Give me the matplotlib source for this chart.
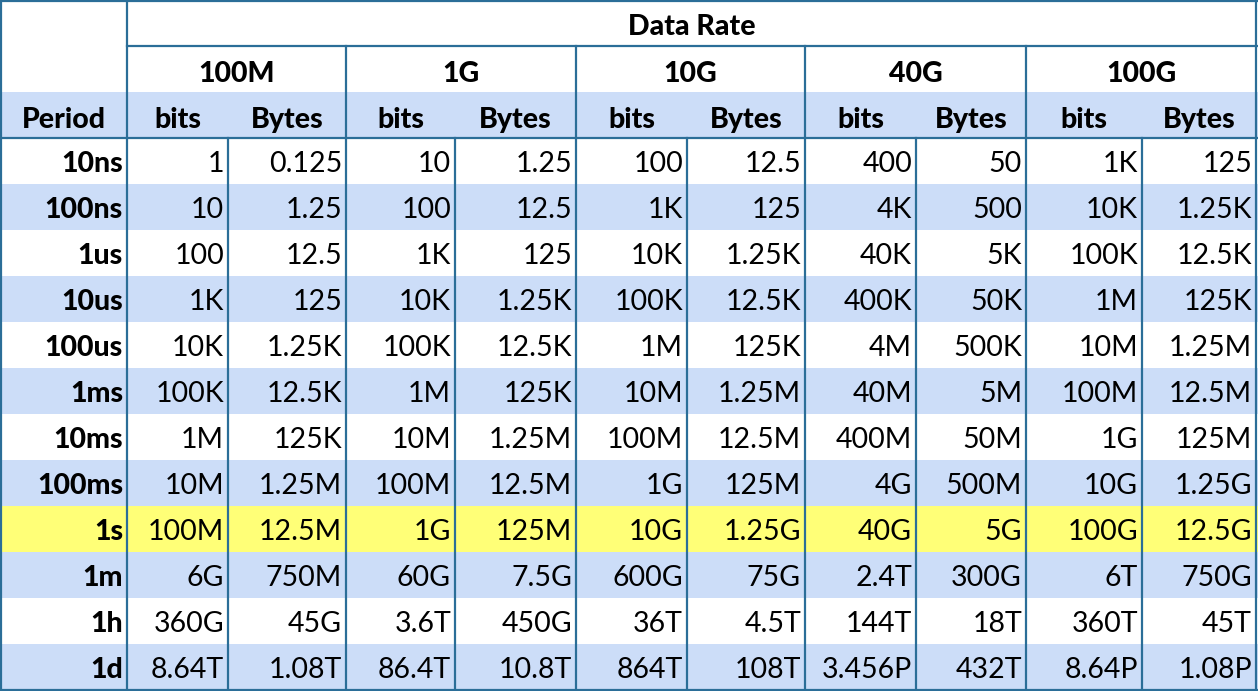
import matplotlib
matplotlib.use("Agg")
import matplotlib.pyplot as plt
from matplotlib.patches import Rectangle

rates = ["100M", "1G", "10G", "40G", "100G"]
units = ["bits", "Bytes"]
periods = ["10ns", "100ns", "1us", "10us", "100us", "1ms", "10ms", "100ms", "1s", "1m", "1h", "1d"]
values = [
    ["1", "0.125", "10", "1.25", "100", "12.5", "400", "50", "1K", "125"],
    ["10", "1.25", "100", "12.5", "1K", "125", "4K", "500", "10K", "1.25K"],
    ["100", "12.5", "1K", "125", "10K", "1.25K", "40K", "5K", "100K", "12.5K"],
    ["1K", "125", "10K", "1.25K", "100K", "12.5K", "400K", "50K", "1M", "125K"],
    ["10K", "1.25K", "100K", "12.5K", "1M", "125K", "4M", "500K", "10M", "1.25M"],
    ["100K", "12.5K", "1M", "125K", "10M", "1.25M", "40M", "5M", "100M", "12.5M"],
    ["1M", "125K", "10M", "1.25M", "100M", "12.5M", "400M", "50M", "1G", "125M"],
    ["10M", "1.25M", "100M", "12.5M", "1G", "125M", "4G", "500M", "10G", "1.25G"],
    ["100M", "12.5M", "1G", "125M", "10G", "1.25G", "40G", "5G", "100G", "12.5G"],
    ["6G", "750M", "60G", "7.5G", "600G", "75G", "2.4T", "300G", "6T", "750G"],
    ["360G", "45G", "3.6T", "450G", "36T", "4.5T", "144T", "18T", "360T", "45T"],
    ["8.64T", "1.08T", "86.4T", "10.8T", "864T", "108T", "3.456P", "432T", "8.64P", "1.08P"],
]

W, H = 1258, 691
fig = plt.figure(figsize=(W / 100, H / 100), dpi=100)
ax = fig.add_axes([0, 0, 1, 1])
ax.set_xlim(0, W); ax.set_ylim(H, 0); ax.axis("off")

xs = [1, 127, 228, 346, 455, 576, 687, 805, 916, 1026, 1142, 1256]
rh = 46
y0 = 138
BLUE = "#CCDDF8"; YEL = "#FFFF77"; LINE = "#2B6E98"
FONT = "Lato"; FS = 20.5

ax.add_patch(Rectangle((0, 92), W, 46, color=BLUE, lw=0))
for i, p in enumerate(periods):
    y = y0 + i * rh
    c = YEL if p == "1s" else (BLUE if i % 2 == 1 else None)
    if c:
        ax.add_patch(Rectangle((0, y), W, rh, color=c, lw=0))

def t(x, y, s, ha="center", bold=False):
    ax.text(x, y, s, ha=ha, va="center", fontsize=FS, family=FONT,
            fontweight="heavy" if bold else "normal", color="black")

t((127 + 1256) / 2, 27, "Data Rate", bold=True)
for k, r in enumerate(rates):
    t((xs[1 + 2 * k] + xs[3 + 2 * k]) / 2, 74, r, bold=True)
    for j, u in enumerate(units):
        t((xs[1 + 2 * k + j] + xs[2 + 2 * k + j]) / 2, 120, u, bold=True)
t(64, 120, "Period", bold=True)
for i, p in enumerate(periods):
    yc = y0 + i * rh + rh / 2 + 3
    t(xs[1] - 4, yc, p, ha="right", bold=True)
    for j, v in enumerate(values[i]):
        t(xs[j + 2] - 4, yc, v, ha="right")

lw = 1.6
ax.plot([0, W], [1, 1], color=LINE, lw=lw)
ax.plot([0, W], [H - 1, H - 1], color=LINE, lw=lw)
ax.plot([xs[1], W], [46, 46], color=LINE, lw=lw)
ax.plot([0, W], [y0, y0], color=LINE, lw=lw)
ax.plot([xs[0], xs[0]], [0, H], color=LINE, lw=lw)
ax.plot([xs[-1], xs[-1]], [0, H], color=LINE, lw=lw)
ax.plot([xs[1], xs[1]], [0, H], color=LINE, lw=lw)
for k in range(1, 5):
    ax.plot([xs[1 + 2 * k]] * 2, [46, H], color=LINE, lw=lw)
for k in range(5):
    ax.plot([xs[2 + 2 * k]] * 2, [y0, H], color=LINE, lw=lw)

fig.savefig("out.png", dpi=100)
